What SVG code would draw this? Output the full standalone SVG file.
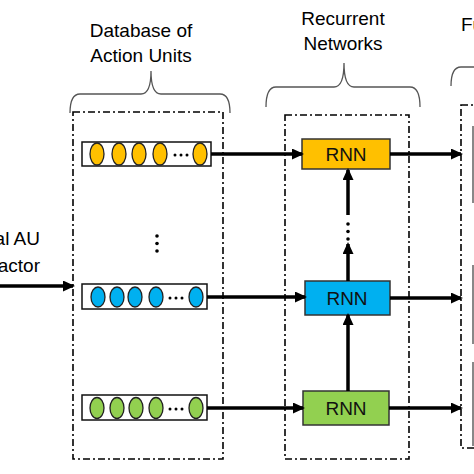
<svg xmlns="http://www.w3.org/2000/svg" width="474" height="474" viewBox="0 0 474 474">
<defs>
<marker id="ah" markerWidth="12" markerHeight="11" refX="10" refY="5.5" orient="auto" markerUnits="userSpaceOnUse"><path d="M0,0 L12,5.5 L0,11 z" fill="#000"/></marker>
<style>
.t{font-family:"Liberation Sans",Arial,sans-serif;font-size:19px;fill:#000;}
.r{font-family:"Liberation Sans",Arial,sans-serif;font-size:19px;fill:#111;text-anchor:middle;}
.box{fill:none;stroke:#000;stroke-width:1.6;stroke-dasharray:7 3 2 3;}
.brace{fill:none;stroke:#555;stroke-width:1.3;}
.vec{fill:#fff;stroke:#111;stroke-width:1.5;}
.c{stroke:#222;stroke-width:1.3;}
.o{fill:#FFC000;} .b{fill:#00B0F0;} .g{fill:#92D050;}
.rnn{stroke:#333;stroke-width:1.5;}
.a{stroke:#000;stroke-width:3.5;fill:none;marker-end:url(#ah);}
.d{fill:#000;}
.gr{fill:#fff;stroke:#888;stroke-width:2;}
</style>
</defs>
<rect width="474" height="474" fill="#fff"/>

<g id="labels">
<text class="t" x="141" y="37" text-anchor="middle">Database of</text>
<text class="t" x="141" y="62" text-anchor="middle">Action Units</text>
<text class="t" x="343" y="25" text-anchor="middle">Recurrent</text>
<text class="t" x="343" y="50" text-anchor="middle">Networks</text>
<text class="t" x="461" y="31">Fu</text>
<text class="t" x="40" y="245" text-anchor="end">al AU</text>
<text class="t" x="40" y="272" text-anchor="end">actor</text>
</g>

<g id="braces">
<path class="brace" d="M70,113 Q70,94 80,94 L141,94 Q151,94 151,71 Q151,94 161,94 L220,94 Q230,94 230,113"/>
<path class="brace" d="M266,107 Q266,87 276,87 L334,87 Q344,87 344,63 Q344,87 354,87 L410,87 Q420,87 420,107"/>
<path class="brace" d="M451,86 Q451,67 461,67 L480,67"/>
</g>

<g id="containers">
<rect class="box" x="73" y="112" width="150" height="347"/>
<rect class="box" x="285" y="115" width="124" height="344"/>
<rect class="box" x="461" y="105" width="30" height="343"/>
<rect class="gr" x="473" y="127" width="20" height="75"/>
<rect class="gr" x="473" y="266" width="20" height="77"/>
<rect class="gr" x="473" y="363" width="20" height="82"/>
</g>

<g id="vec-orange">
<rect class="vec" x="82" y="142" width="129" height="24"/>
<ellipse class="c o" cx="97" cy="154" rx="7" ry="11"/>
<ellipse class="c o" cx="119" cy="154" rx="7" ry="11"/>
<ellipse class="c o" cx="139" cy="154" rx="7" ry="11"/>
<ellipse class="c o" cx="160" cy="154" rx="7" ry="11"/>
<circle class="d" cx="175" cy="155" r="1.5"/><circle class="d" cx="181" cy="155" r="1.5"/><circle class="d" cx="187" cy="155" r="1.5"/>
<ellipse class="c o" cx="200" cy="154" rx="7" ry="11"/>
</g>

<g id="vec-dots">
<circle class="d" cx="157" cy="236" r="1.8"/>
<circle class="d" cx="157" cy="243.5" r="1.8"/>
<circle class="d" cx="157" cy="251" r="1.8"/>
</g>

<g id="vec-blue">
<rect class="vec" x="82" y="284" width="125" height="25"/>
<ellipse class="c b" cx="98" cy="297" rx="7" ry="10"/>
<ellipse class="c b" cx="117" cy="297" rx="7" ry="10"/>
<ellipse class="c b" cx="135" cy="297" rx="7" ry="10"/>
<ellipse class="c b" cx="156" cy="297" rx="7" ry="10"/>
<circle class="d" cx="170" cy="298" r="1.5"/><circle class="d" cx="176" cy="298" r="1.5"/><circle class="d" cx="182" cy="298" r="1.5"/>
<ellipse class="c b" cx="196" cy="297" rx="7" ry="10"/>
</g>

<g id="vec-green">
<rect class="vec" x="82" y="395" width="125" height="25"/>
<ellipse class="c g" cx="97" cy="408" rx="7" ry="10.5"/>
<ellipse class="c g" cx="117" cy="408" rx="7" ry="10.5"/>
<ellipse class="c g" cx="136" cy="408" rx="7" ry="10.5"/>
<ellipse class="c g" cx="156" cy="408" rx="7" ry="10.5"/>
<circle class="d" cx="170" cy="409" r="1.5"/><circle class="d" cx="176" cy="409" r="1.5"/><circle class="d" cx="182" cy="409" r="1.5"/>
<ellipse class="c g" cx="196" cy="408" rx="7" ry="10.5"/>
</g>

<g id="rnn-orange">
<rect class="rnn o" x="302" y="139" width="88" height="30"/>
<text class="r" x="346" y="161">RNN</text>
</g>
<g id="rnn-blue">
<rect class="rnn b" x="305" y="281" width="85" height="34"/>
<text class="r" x="347" y="305">RNN</text>
</g>
<g id="rnn-green">
<rect class="rnn g" x="303" y="391" width="86" height="34"/>
<text class="r" x="346" y="415">RNN</text>
</g>

<g id="connectors">
<line class="a" x1="0" y1="286" x2="73" y2="286"/>
<line class="a" x1="211" y1="154" x2="302" y2="154"/>
<line class="a" x1="207" y1="297" x2="305" y2="297"/>
<line class="a" x1="207" y1="408" x2="303" y2="408"/>
<line class="a" x1="390" y1="154" x2="461" y2="154"/>
<line class="a" x1="390" y1="298" x2="461" y2="298"/>
<line class="a" x1="389" y1="408" x2="461" y2="408"/>
<line class="a" x1="348" y1="391" x2="348" y2="315"/>
<line class="a" x1="348" y1="281" x2="348" y2="244"/>
<line class="a" x1="348" y1="215" x2="348" y2="170"/>
<circle class="d" cx="348" cy="224" r="1.8"/>
<circle class="d" cx="348" cy="231.5" r="1.8"/>
<circle class="d" cx="348" cy="239" r="1.8"/>
</g>
</svg>
